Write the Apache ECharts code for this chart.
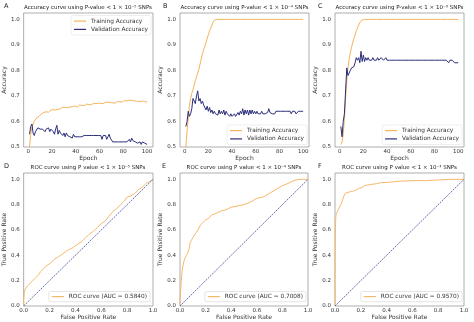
<!DOCTYPE html>
<html><head><meta charset="utf-8">
<script src="https://cdn.jsdelivr.net/npm/echarts@6/dist/echarts.min.js"></script>
<style>html,body{margin:0;padding:0;background:#fff}#c{width:474px;height:322px}</style>
</head><body><div id="c"></div>
<script>
// ---- data ----
const accTicks = [0.5, 0.6, 0.7, 0.8, 0.9, 1.0];
const epochTicks = [0, 20, 40, 60, 80, 100];
const rocTicksX = [0, 0.2, 0.4, 0.6, 0.8, 1.0];
const rocTicksY = [0, 0.2, 0.4, 0.6, 0.8, 1.0];

const trainA = [0.50,0.55,0.575,0.59,0.60,0.605,0.615,0.61,0.62,0.625,
0.63,0.625,0.635,0.632,0.638,0.64,0.636,0.642,0.645,0.64,
0.646,0.65,0.645,0.652,0.648,0.655,0.65,0.653,0.656,0.652,
0.655,0.658,0.654,0.66,0.656,0.662,0.658,0.655,0.661,0.659,
0.656,0.66,0.664,0.66,0.663,0.666,0.662,0.665,0.668,0.664,
0.666,0.669,0.665,0.668,0.671,0.667,0.67,0.668,0.672,0.669,
0.671,0.674,0.67,0.673,0.676,0.672,0.675,0.671,0.674,0.677,
0.673,0.676,0.672,0.675,0.678,0.674,0.677,0.68,0.676,0.679,
0.682,0.686,0.68,0.676,0.684,0.679,0.682,0.677,0.681,0.684,
0.679,0.682,0.678,0.681,0.679,0.677,0.68,0.678,0.676,0.677];
const valA = [0.55,0.58,0.59,0.555,0.545,0.56,0.565,0.575,0.58,0.57,
0.565,0.57,0.575,0.56,0.57,0.565,0.575,0.56,0.57,0.575,
0.56,0.55,0.57,0.585,0.55,0.565,0.555,0.56,0.545,0.555,
0.54,0.555,0.545,0.55,0.54,0.545,0.535,0.55,0.54,0.535,
0.54,0.54,0.54,0.54,0.54,0.545,0.545,0.545,0.545,0.545,
0.545,0.545,0.545,0.545,0.545,0.545,0.545,0.545,0.545,0.545,
0.545,0.53,0.545,0.54,0.545,0.53,0.54,0.55,0.535,0.53,
0.52,0.525,0.52,0.52,0.52,0.52,0.52,0.52,0.52,0.52,
0.52,0.52,0.52,0.52,0.53,0.52,0.535,0.525,0.52,0.52,
0.52,0.515,0.52,0.52,0.51,0.52,0.515,0.515,0.51,0.51];
const trainB = [0.50,0.56,0.61,0.66,0.69,0.71,0.725,0.74,0.76,0.775,
0.79,0.805,0.825,0.845,0.865,0.88,0.895,0.91,0.925,0.94,
0.955,0.965,0.978,0.988,0.996,1,1,1,1,1,
1,1,1,1,1,1,1,1,1,1, 1,1,1,1,1,1,1,1,1,1,
1,1,1,1,1,1,1,1,1,1, 1,1,1,1,1,1,1,1,1,1,
1,1,1,1,1,1,1,1,1,1, 1,1,1,1,1,1,1,1,1,1,
1,1,1,1,1,1,1,1,1,1];
const valB = [0.58,0.60,0.64,0.62,0.63,0.65,0.69,0.68,0.67,0.70,
0.72,0.68,0.69,0.67,0.68,0.665,0.67,0.645,0.66,0.64,
0.655,0.635,0.645,0.63,0.64,0.63,0.635,0.625,0.645,0.63,
0.64,0.63,0.645,0.625,0.64,0.63,0.625,0.62,0.63,0.62,
0.625,0.63,0.62,0.625,0.635,0.625,0.64,0.63,0.65,0.625,
0.645,0.63,0.645,0.625,0.645,0.63,0.645,0.63,0.64,0.63,
0.64,0.63,0.63,0.63,0.64,0.63,0.63,0.63,0.63,0.635,
0.65,0.635,0.63,0.63,0.63,0.63,0.64,0.64,0.64,0.64,
0.64,0.64,0.64,0.64,0.64,0.64,0.64,0.64,0.64,0.63,
0.64,0.64,0.64,0.63,0.63,0.64,0.64,0.64,0.64,0.64];
const trainC = [0.51,0.52,0.55,0.61,0.69,0.76,0.81,0.845,0.87,0.89,
0.91,0.925,0.94,0.955,0.965,0.978,0.987,0.993,0.998,1,
1,1,1,1,1,1,1,1,1,1, 1,1,1,1,1,1,1,1,1,1,
1,1,1,1,1,1,1,1,1,1, 1,1,1,1,1,1,1,1,1,1,
1,1,1,1,1,1,1,1,1,1, 1,1,1,1,1,1,1,1,1,1,
1,1,1,1,1,1,1,1,1,1, 1,1,1,1,1,1,1,1,1,1];
const valC = [0.58,0.54,0.60,0.63,0.72,0.81,0.78,0.785,0.80,0.81,
0.81,0.815,0.83,0.85,0.84,0.85,0.83,0.875,0.835,0.86,
0.835,0.85,0.84,0.85,0.84,0.845,0.84,0.85,0.84,0.845,
0.84,0.85,0.84,0.84,0.85,0.845,0.84,0.84,0.85,0.84,
0.84,0.84,0.84,0.84,0.84,0.84,0.84,0.84,0.84,0.84,
0.84,0.84,0.84,0.84,0.84,0.84,0.84,0.84,0.84,0.84,
0.84,0.84,0.84,0.84,0.84,0.84,0.84,0.84,0.84,0.84,
0.84,0.84,0.84,0.84,0.84,0.84,0.84,0.84,0.84,0.84,
0.84,0.84,0.84,0.84,0.84,0.84,0.84,0.84,0.84,0.84,
0.84,0.83,0.84,0.84,0.84,0.84,0.83,0.83,0.83,0.83];

const fprD = [0,0,0.005,0.01,0.02,0.03,0.05,0.07,0.09,0.11,0.13,0.15,0.18,0.21,0.24,0.27,0.30,0.34,0.38,0.42,0.45,0.48,0.51,0.54,0.57,0.60,0.63,0.66,0.69,0.72,0.75,0.78,0.80,0.83,0.86,0.89,0.92,0.95,0.97,1.0];
const tprD = [0,0.04,0.11,0.13,0.14,0.16,0.18,0.20,0.22,0.24,0.27,0.29,0.32,0.34,0.37,0.39,0.41,0.44,0.46,0.49,0.51,0.54,0.57,0.59,0.62,0.65,0.67,0.71,0.745,0.77,0.80,0.83,0.86,0.87,0.89,0.92,0.94,0.97,0.98,1.0];
const fprE = [0,0,0.005,0.01,0.015,0.02,0.03,0.04,0.05,0.06,0.07,0.08,0.09,0.10,0.12,0.14,0.16,0.18,0.20,0.22,0.25,0.28,0.32,0.36,0.40,0.45,0.50,0.55,0.60,0.65,0.70,0.75,0.80,0.85,0.89,0.93,0.96,1.0];
const tprE = [0,0.05,0.12,0.20,0.26,0.30,0.35,0.38,0.40,0.42,0.45,0.50,0.52,0.54,0.57,0.60,0.64,0.66,0.68,0.69,0.72,0.73,0.75,0.76,0.78,0.79,0.80,0.82,0.85,0.86,0.89,0.92,0.95,0.97,0.99,1.0,1.0,1.0];
const fprF = [0,0,0.003,0.006,0.01,0.02,0.03,0.04,0.05,0.06,0.07,0.08,0.09,0.11,0.13,0.15,0.17,0.19,0.21,0.23,0.25,0.28,0.32,0.36,0.40,0.45,0.50,0.60,0.70,0.80,0.90,1.0];
const tprF = [0,0.42,0.60,0.70,0.73,0.75,0.77,0.79,0.81,0.84,0.87,0.89,0.90,0.90,0.905,0.91,0.92,0.93,0.935,0.95,0.955,0.96,0.965,0.975,0.975,0.98,0.985,0.99,0.99,0.995,1.0,1.0];
const diagX = [0, 1];
const diagY = [0, 1];

const accTitles = ['Accuracy curve using P-value < 1 × 10⁻⁵ SNPs','Accuracy curve using P-value < 1 × 10⁻⁴ SNPs','Accuracy curve using P-value < 1 × 10⁻³ SNPs'];
const rocTitles = ['ROC curve using P value < 1 × 10⁻⁵ SNPs','ROC curve using P value < 1 × 10⁻⁴ SNPs','ROC curve using P value < 1 × 10⁻³ SNPs'];
const rocNames = ['ROC curve (AUC = 0.5840)','ROC curve (AUC = 0.7008)','ROC curve (AUC = 0.9570)'];
const letters = ['A','B','C','D','E','F'];
const trainName = 'Training Accuracy', valName = 'Validation Accuracy';

// ---- layout / style ----
const FONT = 'DejaVu Sans';
const cTrain = '#f4b25a', cVal = '#2b2d7a', cRoc = '#f5b86a', cDiag = '#3b4a9a';
const grids = [
  {left:23, top:13, width:130, height:134},
  {left:180, top:13, width:129, height:134},
  {left:335, top:13, width:129, height:134},
  {left:23, top:173, width:130, height:133},
  {left:180, top:173, width:128, height:133},
  {left:335, top:173, width:129, height:133}
];
const letterPos = [[4,3],[163,3],[318,3],[4,163],[162,163],[318,163]];
// legend: [right, top]
const legendPos = [[323,15.5],[167,125],[12,125],[324,291.5],[168,291.5],[12,291.5]];

const option = {
  animation:false, backgroundColor:'#fff',
  title:[], grid:[], xAxis:[], yAxis:[], series:[], legend:[]
};
const lbl = {fontSize:5.5, color:'#333', fontFamily:FONT};
const nm = {fontSize:6, color:'#333', fontFamily:FONT};
const legText = {fontSize:5.8, color:'#333', fontFamily:FONT, lineHeight:7.2};

grids.forEach((g,i)=>{
  option.grid.push(Object.assign({show:true, borderColor:'#999', borderWidth:0.8, backgroundColor:'#fff'}, g));
  const cx = g.left + g.width/2;
  const isAcc = i < 3;
  option.title.push({text:isAcc?accTitles[i]:rocTitles[i-3], left:cx, top:g.top-8.5, textAlign:'center',
    textStyle:{fontSize:5.5, fontWeight:'normal', color:'#222', fontFamily:FONT}, padding:0});
  option.title.push({text:letters[i], left:letterPos[i][0], top:letterPos[i][1], padding:0,
    textStyle:{fontSize:6.5, fontWeight:'normal', color:'#222', fontFamily:FONT}});
  if (isAcc) {
    option.xAxis.push({gridIndex:i, type:'value', min:-3.95, max:104.95, name:'Epoch', nameLocation:'middle', nameGap:6,
      nameTextStyle:nm, axisLine:{show:false}, axisTick:{show:false}, splitLine:{show:false},
      axisLabel:Object.assign({customValues:epochTicks, margin:2, formatter:v=>String(v)}, lbl)});
    option.yAxis.push({gridIndex:i, type:'value', min:0.5, max:1.025, name:'Accuracy', nameLocation:'middle', nameGap:11.5,
      nameTextStyle:nm, axisLine:{show:false}, axisTick:{show:false}, splitLine:{show:false},
      axisLabel:Object.assign({customValues:accTicks, margin:4, formatter:v=>v.toFixed(1)}, lbl)});
    const tr = [trainA,trainB,trainC][i], va = [valA,valB,valC][i];
    option.series.push({type:'line', name:trainName, xAxisIndex:i, yAxisIndex:i, showSymbol:false, color:cTrain,
      lineStyle:{width:1, color:cTrain}, data:tr.map((v,k)=>[k+1,v])});
    option.series.push({type:'line', name:valName, xAxisIndex:i, yAxisIndex:i, showSymbol:false, color:cVal,
      lineStyle:{width:1, color:cVal}, data:va.map((v,k)=>[k+1,v])});
    option.legend.push({orient:'vertical', right:legendPos[i][0], top:legendPos[i][1], data:[trainName,valName],
      icon:'rect', itemWidth:12, itemHeight:1.2, itemGap:1.1, padding:[2,3], backgroundColor:'#fff',
      borderColor:'#ddd', borderWidth:0.5, borderRadius:2, textStyle:legText});
  } else {
    const j = i-3;
    option.xAxis.push({gridIndex:i, type:'value', min:0, max:1, name:'False Positive Rate', nameLocation:'middle', nameGap:6,
      nameTextStyle:nm, axisLine:{show:false}, axisTick:{show:false}, splitLine:{show:false},
      axisLabel:Object.assign({customValues:rocTicksX, margin:2, formatter:v=>v.toFixed(1)}, lbl)});
    option.yAxis.push({gridIndex:i, type:'value', min:0, max:1.05, name:'True Positive Rate', nameLocation:'middle', nameGap:10,
      nameTextStyle:nm, axisLine:{show:false}, axisTick:{show:false}, splitLine:{show:false},
      axisLabel:Object.assign({customValues:rocTicksY, margin:4, formatter:v=>v.toFixed(1)}, lbl)});
    const fx = [fprD,fprE,fprF][j], ty = [tprD,tprE,tprF][j];
    option.series.push({type:'line', name:rocNames[j], xAxisIndex:i, yAxisIndex:i, showSymbol:false, color:cRoc,
      lineStyle:{width:1, color:cRoc}, data:fx.map((v,k)=>[v,ty[k]])});
    option.series.push({type:'line', name:'diag'+j, xAxisIndex:i, yAxisIndex:i, showSymbol:false, color:cDiag,
      lineStyle:{width:0.8, color:cDiag, type:[2,1]}, data:diagX.map((v,k)=>[v,diagY[k]])});
    option.legend.push({orient:'vertical', right:legendPos[i][0], top:legendPos[i][1], data:[rocNames[j]],
      icon:'rect', itemWidth:12, itemHeight:1.2, padding:[1.5,3], backgroundColor:'#fff',
      borderColor:'#ccc', borderWidth:0.5, borderRadius:2, textStyle:legText});
  }
});
const chart = echarts.init(document.getElementById('c'), null, {renderer:'canvas'});
chart.setOption(option);
</script></body></html>
